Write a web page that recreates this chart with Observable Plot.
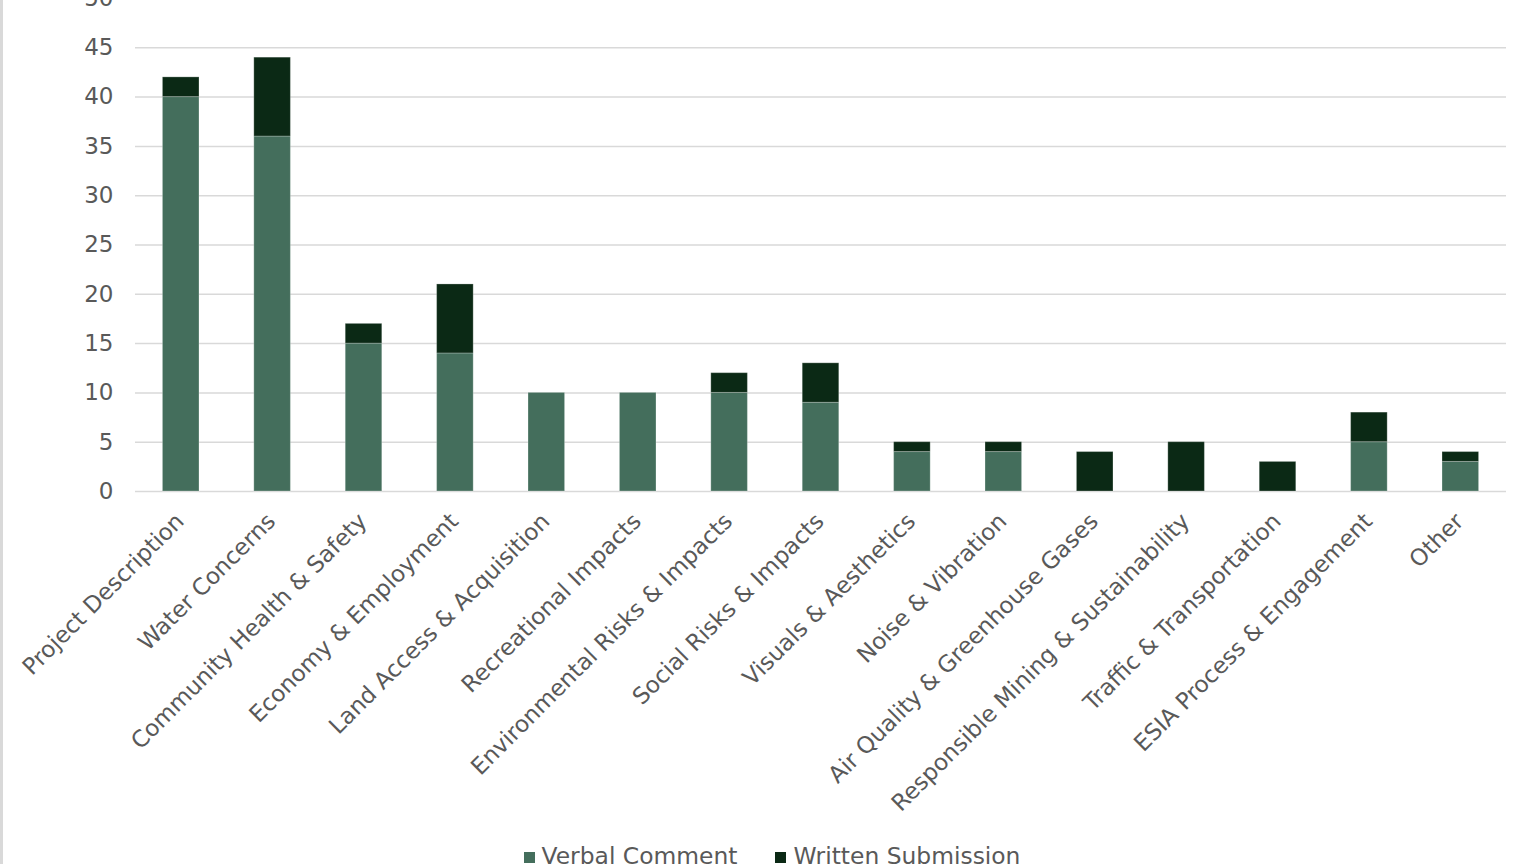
<!DOCTYPE html>
<html>
<head>
<meta charset="utf-8">
<script src="https://cdn.jsdelivr.net/npm/d3@7"></script>
<script src="https://cdn.jsdelivr.net/npm/@observablehq/plot@0.6"></script>
<style>
  html, body { margin: 0; padding: 0; background: #fff; overflow: hidden; }
  #wrap { position: relative; width: 1536px; height: 864px; overflow: hidden; background: #fff; }
  #border { position: absolute; left: 0; top: 0; width: 3px; height: 864px; background: #d9d9d9; z-index: 5; }
  #chart { position: absolute; left: 0; top: -12px; }
  #legend { position: absolute; left: 4px; top: 843px; width: 1536px; text-align: center;
    font-family: "DejaVu Sans", Verdana, sans-serif; font-size: 23.4px; color: #595959; line-height: 26px; white-space: nowrap; }
  .item { display: inline-block; margin: 0 19px; }
  .sw { display: inline-block; width: 11px; height: 11px; margin-right: 7px; vertical-align: 1px; }
</style>
</head>
<body>
<div id="wrap">
  <div id="chart"></div>
  <div id="border"></div>
  <div id="legend"></div>
</div>
<script>
const categories = [
  "Project Description", "Water Concerns", "Community Health & Safety", "Economy & Employment",
  "Land Access & Acquisition", "Recreational Impacts", "Environmental Risks & Impacts",
  "Social Risks & Impacts", "Visuals & Aesthetics", "Noise & Vibration",
  "Air Quality & Greenhouse Gases", "Responsible Mining & Sustainability",
  "Traffic & Transportation", "ESIA Process & Engagement", "Other"
];
const verbal  = [40, 36, 15, 14, 10, 10, 10, 9, 4, 4, 0, 0, 0, 5, 3];
const written = [ 2,  8,  2,  7,  0,  0,  2, 4, 1, 1, 4, 5, 3, 3, 1];
const seriesNames = ["Verbal Comment", "Written Submission"];
const seriesColors = ["#446e5c", "#0b2915"];
const yTicks = [0, 5, 10, 15, 20, 25, 30, 35, 40, 45, 50];

const rows = [];
categories.forEach((c, i) => {
  rows.push({category: c, series: seriesNames[0], value: verbal[i]});
  rows.push({category: c, series: seriesNames[1], value: written[i]});
});

const plot = Plot.plot({
  width: 1536,
  height: 830,
  marginTop: 10,
  marginBottom: 327,
  marginLeft: 135,
  marginRight: 30,
  style: {fontFamily: "'DejaVu Sans', Verdana, sans-serif", fontSize: "23px", color: "#595959", background: "#fff"},
  x: {domain: categories, paddingInner: 0.6, paddingOuter: 0.3, round: false, label: null},
  y: {domain: [0, 50], ticks: yTicks, label: null},
  color: {domain: seriesNames, range: seriesColors},
  marks: [
    Plot.gridY(yTicks, {stroke: "#d9d9d9", strokeOpacity: 1, strokeWidth: 1.5}),
    Plot.barY(rows, {x: "category", y: "value", fill: "series", order: seriesNames, stroke: "#ffffff", strokeOpacity: 0.25, strokeWidth: 1}),
    Plot.axisY(yTicks, {tickSize: 0, tickPadding: 22, fontSize: 23, fill: "#595959", label: null}),
    Plot.axisX({tickSize: 0, tickPadding: 26, dx: -1, tickRotate: -45, fontSize: 23, fill: "#595959", label: null})
  ]
});
document.getElementById("chart").appendChild(plot);

const legend = document.getElementById("legend");
seriesNames.forEach((name, i) => {
  const item = document.createElement("span");
  item.className = "item";
  const sw = document.createElement("span");
  sw.className = "sw";
  sw.style.background = seriesColors[i];
  item.appendChild(sw);
  item.appendChild(document.createTextNode(name));
  legend.appendChild(item);
});
</script>
</body>
</html>
